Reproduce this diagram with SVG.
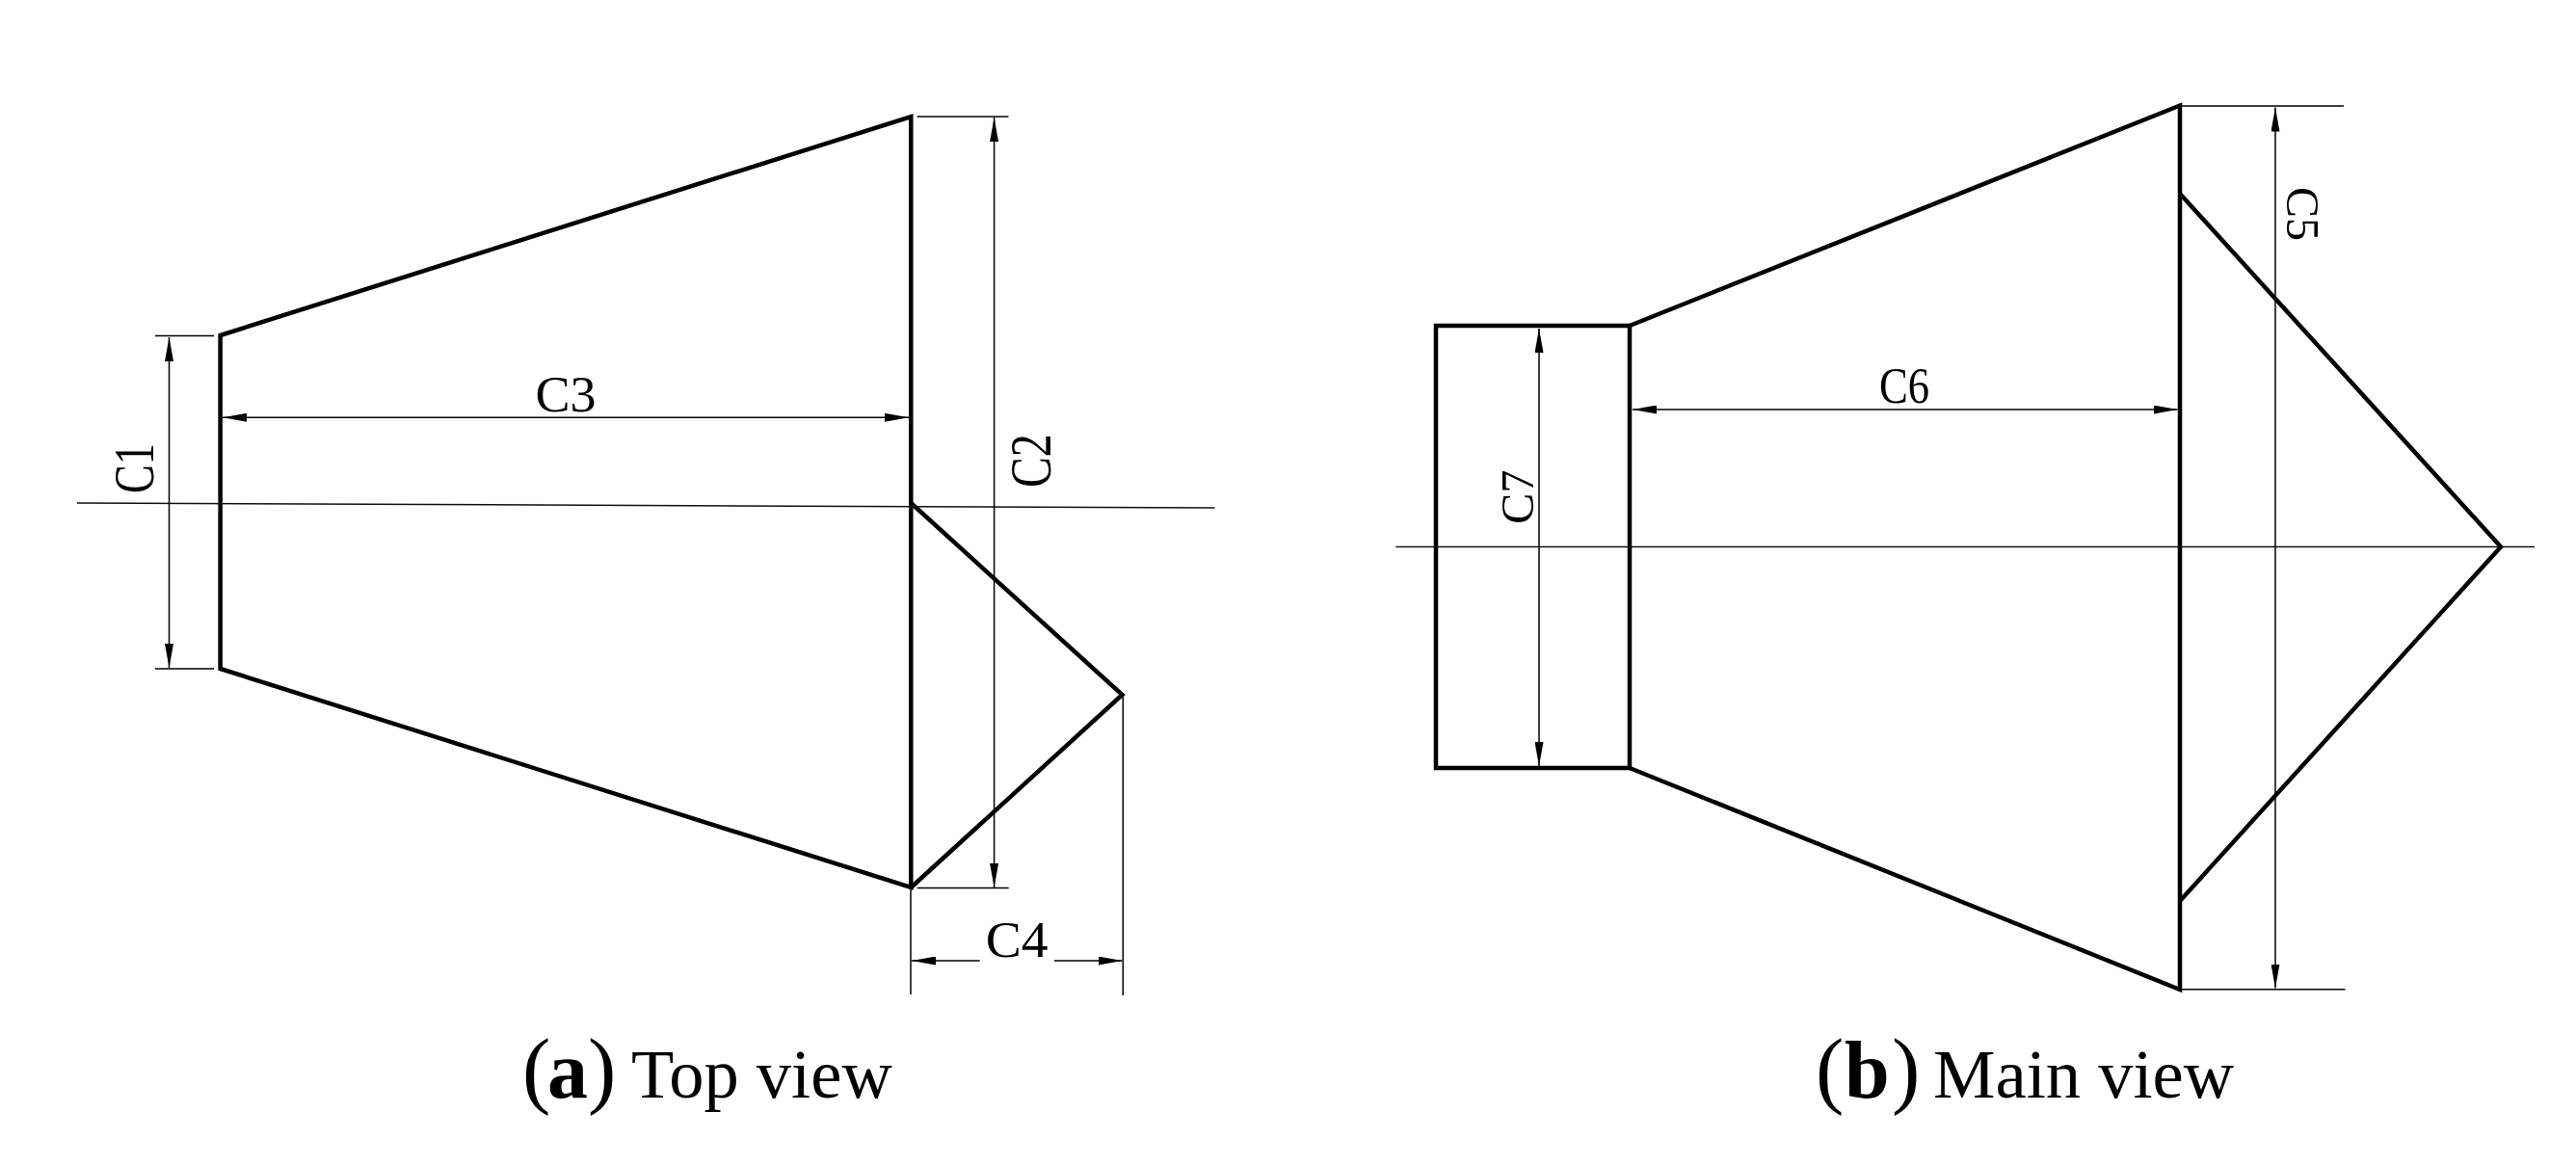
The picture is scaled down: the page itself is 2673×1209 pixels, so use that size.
<svg xmlns="http://www.w3.org/2000/svg" width="2673" height="1209" viewBox="0 0 2673 1209">
<defs>
<style>
.thick{fill:none;stroke:#000;stroke-width:4.500;stroke-linejoin:miter}
.thin{fill:none;stroke:#000;stroke-width:1.500}
.center{fill:none;stroke:#111;stroke-width:1.500}
.dim{font-family:"Liberation Serif","Times New Roman",serif;fill:#000}
.cap{font-family:"Liberation Serif","Times New Roman",serif;font-size:72.500px;fill:#000}
.par{font-size:88px}
.bold{font-size:84px;font-weight:bold}
</style>
<marker id="ah" viewBox="0 0 25 9" refX="25" refY="4.500" markerWidth="25" markerHeight="9" markerUnits="userSpaceOnUse" orient="auto-start-reverse"><path d="M0 0L25 4.500L0 9Z" fill="#000"/></marker>
</defs>
<rect width="2673" height="1209" fill="#fff"/>
<g id="top-view-body">
<path class="thick" d="M228.600 348L945.300 121V921L228.600 694Z"/>
<path class="thick" d="M945.300 522L1164.500 721L945.300 921"/>
</g>
<g id="main-view-body">
<path class="thick" d="M1490 338H1691V797H1490Z"/>
<path class="thick" d="M1691 338L2262 109.500V1027L1691 797"/>
<path class="thick" d="M2262 201L2595 567.500L2262 935"/>
</g>
<g id="connectors">
<path class="center" d="M80 522L1260.500 527"/>
<path class="center" d="M1448.400 567.500H2630"/>
<path class="thin" d="M161 348.500H222M161 694H222"/>
<path class="thin" d="M951.600 121H1046.500M951.700 921.500H1046.700"/>
<path class="thin" d="M945 922V1032M1165.300 721V1033"/>
<path class="thin" d="M2264 110H2432M2264 1026.700H2433.500"/>
<path class="thin" marker-start="url(#ah)" marker-end="url(#ah)" d="M175.500 350V693"/>
<path class="thin" marker-start="url(#ah)" marker-end="url(#ah)" d="M231 433.300H943"/>
<path class="thin" marker-start="url(#ah)" marker-end="url(#ah)" d="M1031.600 122V921"/>
<path class="thin" marker-start="url(#ah)" d="M946 997H1016.700"/>
<path class="thin" marker-end="url(#ah)" d="M1094 997H1164.500"/>
<path class="thin" marker-start="url(#ah)" marker-end="url(#ah)" d="M1694 425H2259.500"/>
<path class="thin" marker-start="url(#ah)" marker-end="url(#ah)" d="M1597 341V795"/>
<path class="thin" marker-start="url(#ah)" marker-end="url(#ah)" d="M2361 111.500V1025.500"/>
</g>
<g id="label-c1"><text class="dim" font-size="59" transform="translate(159 512) rotate(-90) scale(.755 1)">C1</text></g>
<g id="label-c2"><text class="dim" font-size="62" transform="translate(1090 506) rotate(-90) scale(.77 1)">C2</text></g>
<g id="label-c3"><text class="dim" font-size="52" transform="translate(555.500 426.500) scale(1.040 1)">C3</text></g>
<g id="label-c4"><text class="dim" font-size="52" transform="translate(1022.700 993) scale(1.070 1)">C4</text></g>
<g id="label-c5"><text class="dim" font-size="49" transform="translate(2373 194) rotate(90) scale(.98 1)">C5</text></g>
<g id="label-c6"><text class="dim" font-size="52" transform="translate(1950 418) scale(.86 1)">C6</text></g>
<g id="label-c7"><text class="dim" font-size="49" transform="translate(1591 544) rotate(-90) scale(.99 1)">C7</text></g>
<g id="caption-a"><text class="cap" y="1139"><tspan class="par" x="542">(</tspan><tspan class="bold" x="568">a</tspan><tspan class="par" x="610">)</tspan><tspan x="655">Top view</tspan></text></g>
<g id="caption-b"><text class="cap" y="1139"><tspan class="par" x="1884">(</tspan><tspan class="bold" x="1914">b</tspan><tspan class="par" x="1963">)</tspan><tspan x="2006">Main view</tspan></text></g>
</svg>
